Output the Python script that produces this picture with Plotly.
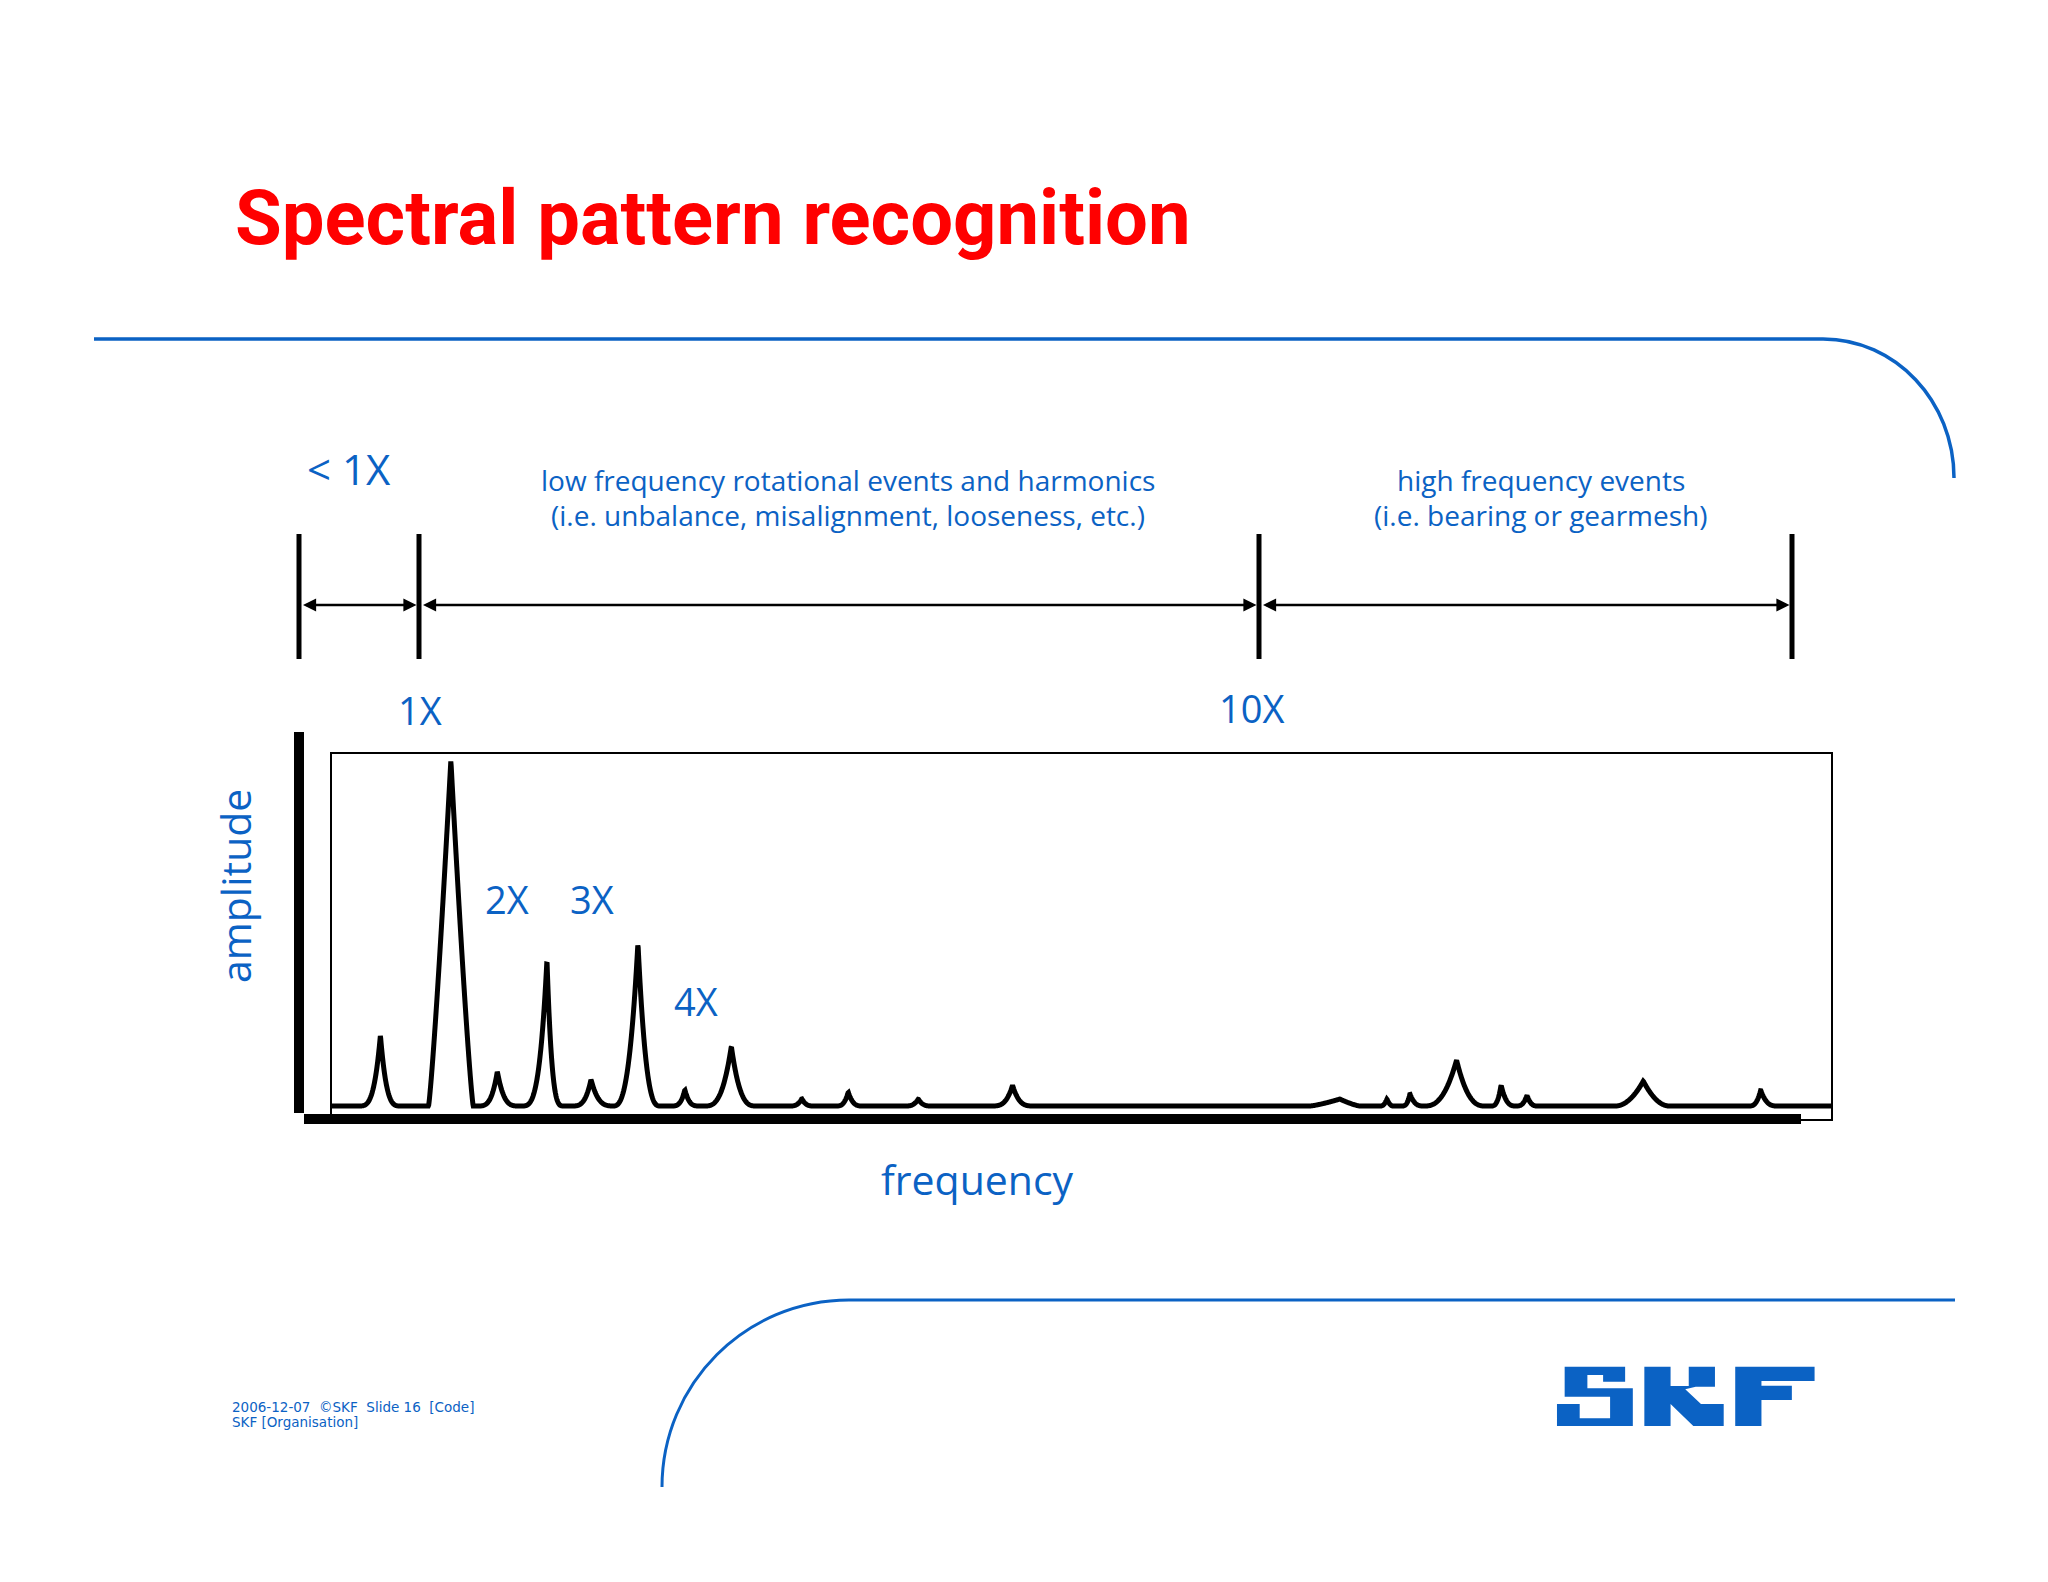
import numpy as np
import plotly.graph_objects as go

W, H = 2048, 1582

# ---------------- data ----------------
# spectrum peaks: frequency (arbitrary units, 0-1000 across the plot box), amplitude (% of the 1X peak)
peak_freq = [32.3, 79.3, 110.3, 143.4, 172.8, 204.1, 235.4, 266.4, 313.4, 344.4,
             391.1, 454.0, 672.3, 703.8, 719.1, 750.2, 779.9, 797.2, 874.8, 953.1]
peak_amp = [20.5, 100.0, 10.0, 42.3, 7.7, 47.2, 4.7, 17.3, 2.1, 4.0,
            2.0, 6.0, 2.0, 2.0, 3.5, 13.3, 6.1, 3.1, 7.2, 4.6]
peak_left_width = [14.6, 14.9, 13.3, 17.3, 13.3, 16.7, 9.3, 18.0, 8.0, 8.0,
                   8.7, 14.7, 20.0, 4.0, 5.3, 21.3, 6.7, 7.3, 18.7, 8.0]
peak_right_width = [13.7, 14.9, 14.7, 11.3, 16.0, 14.7, 10.0, 16.7, 8.0, 9.3,
                    8.7, 14.7, 13.3, 4.0, 9.3, 18.7, 10.0, 7.3, 17.3, 11.3]
peak_sharpness = [3.5, 1.2, 3.5, 3.5, 3.5, 2.8, 3.5, 3.0, 3.0, 3.0,
                  3.0, 3.5, 1.3, 2.0, 3.0, 2.5, 3.0, 3.0, 2.0, 3.0]

harmonic_labels = ["2X", "3X", "4X"]
range_labels = ["1X", "10X"]
title_text = "Spectral pattern recognition"
low_text = ["low frequency rotational events and harmonics",
            "(i.e. unbalance, misalignment, looseness, etc.)"]
high_text = ["high frequency events", "(i.e. bearing or gearmesh)"]
footer_text = ["2006-12-07\u00a0 ©SKF\u00a0 Slide 16\u00a0 [Code]", "SKF [Organisation]"]

# ---------------- build spectrum curve ----------------
freq = np.linspace(0, 1000, 4001)
amp = np.zeros_like(freq)
for f0, a, wl, wr, p in zip(peak_freq, peak_amp, peak_left_width, peak_right_width, peak_sharpness):
    w = np.where(freq < f0, wl, wr)
    u = np.abs(freq - f0) / w
    amp += np.where(u < 1, a * np.clip(1 - u, 0, 1) ** p, 0)

# ---------------- helpers ----------------
def px(x):
    return x / W

def py(y):
    return 1 - y / H

BLUE = "#0B62C4"
RED = "#FF0000"
BODY = "Open Sans, Noto Sans, sans-serif"

fig = go.Figure()
fig.add_trace(go.Scatter(x=freq, y=amp, mode="lines",
                         line=dict(color="black", width=5, simplify=False),
                         hoverinfo="skip", showlegend=False))

box_l, box_r, box_t, box_b = 332, 1831, 754, 1119
base_px, px_per_unit = 1106, 3.46

fig.update_xaxes(domain=[px(box_l), px(box_r)], range=[0, 1000],
                 showline=True, mirror=True, linecolor="black", linewidth=2,
                 showgrid=False, zeroline=False, showticklabels=False, ticks="")
fig.update_yaxes(domain=[py(box_b), py(box_t)],
                 range=[-(box_b - base_px) / px_per_unit, (base_px - box_t) / px_per_unit],
                 showline=True, mirror=True, linecolor="black", linewidth=2,
                 showgrid=False, zeroline=False, showticklabels=False, ticks="")

shapes = []
# thick amplitude / frequency axes
shapes.append(dict(type="line", xref="paper", yref="paper", x0=px(299), x1=px(299),
                   y0=py(732), y1=py(1113), line=dict(color="black", width=10)))
shapes.append(dict(type="line", xref="paper", yref="paper", x0=px(304), x1=px(1801),
                   y0=py(1119), y1=py(1119), line=dict(color="black", width=10)))
# range tick marks
tick_px = [299, 419, 1259, 1792]
for xt in tick_px:
    shapes.append(dict(type="line", xref="paper", yref="paper", x0=px(xt), x1=px(xt),
                       y0=py(534), y1=py(659), line=dict(color="black", width=5)))

# decorative blue lines
k = 0.5523
top = (f"M {px(94)},{py(339)} L {px(1823)},{py(339)} "
       f"C {px(1823 + k*131)},{py(339)} {px(1954)},{py(478 - k*139)} {px(1954)},{py(478)}")
shapes.append(dict(type="path", xref="paper", yref="paper", path=top,
                   line=dict(color=BLUE, width=3.5)))
bot = (f"M {px(1955)},{py(1300)} L {px(849)},{py(1300)} "
       f"C {px(849 - k*187)},{py(1300)} {px(662)},{py(1487 - k*187)} {px(662)},{py(1487)}")
shapes.append(dict(type="path", xref="paper", yref="paper", path=bot,
                   line=dict(color=BLUE, width=3)))

# SKF logo (graphic)
def logo_path(pts):
    conv = [(1500 + zx / 2.861, 1280 + zy / 3) for zx, zy in pts]
    s = "M " + " L ".join(f"{px(x)},{py(y)}" for x, y in conv) + " Z"
    return s

S_pts = [(185, 260), (358, 260), (358, 305), (295, 305), (295, 285), (250, 285), (250, 325),
         (380, 325), (380, 438), (163, 438), (163, 372), (228, 372), (228, 415), (315, 415),
         (315, 350), (185, 350)]
K_pts = [(413, 260), (488, 260), (488, 318), (540, 318), (540, 260), (615, 260), (615, 320),
         (560, 320), (530, 328), (575, 372), (640, 372), (640, 438), (553, 438), (488, 372),
         (488, 438), (413, 438)]
F_pts = [(673, 260), (900, 260), (900, 303), (748, 303), (748, 317), (835, 317), (835, 360),
         (748, 360), (748, 438), (673, 438)]
for pts in (S_pts, K_pts, F_pts):
    shapes.append(dict(type="path", xref="paper", yref="paper", path=logo_path(pts),
                       fillcolor=BLUE, line=dict(width=0)))

annotations = []

def txt(text, x, y, size, color=BLUE, family=BODY, xanchor="center", angle=0, weight="normal"):
    annotations.append(dict(text=text, x=px(x), y=py(y), xref="paper", yref="paper",
                            xanchor=xanchor, yanchor="middle", showarrow=False,
                            textangle=angle, align="left",
                            font=dict(family=family, size=size, color=color, weight=weight)))

txt(title_text, 233, 218, 76, color=RED, family="Roboto, Open Sans, sans-serif",
    xanchor="left", weight="bold")
txt("< 1X", 349, 468, 42)
txt(low_text[0], 848, 480, 28)
txt(low_text[1], 848, 515, 28)
txt(high_text[0], 1541, 480, 28)
txt(high_text[1], 1541, 515, 28)
txt(range_labels[0], 420, 710, 38)
txt(range_labels[1], 1251, 708, 38)
for lab, (lx, ly) in zip(harmonic_labels, [(507, 899), (592, 899), (696, 1001)]):
    txt(lab, lx, ly, 38)
txt("frequency", 977, 1179, 41)
txt("amplitude", 235, 886, 41, angle=-90)
txt(footer_text[0], 230, 1407, 13.5, family="DejaVu Sans, Verdana, sans-serif", xanchor="left")
txt(footer_text[1], 230, 1422, 13.5, family="DejaVu Sans, Verdana, sans-serif", xanchor="left")

# double-headed range arrows
arrow_y = 605
for x0, x1 in zip(tick_px[:-1], tick_px[1:]):
    a0, a1 = x0 + 2.5, x1 - 2.5
    annotations.append(dict(text="", x=px(a1), y=py(arrow_y), xref="paper", yref="paper",
                            ax=-(a1 - a0), ay=0, axref="pixel", ayref="pixel",
                            showarrow=True, arrowhead=2, startarrowhead=2, arrowside="end+start",
                            arrowsize=1.05, startarrowsize=1.05, arrowwidth=2.5,
                            arrowcolor="black", standoff=0, startstandoff=0))

fig.update_layout(width=W, height=H, margin=dict(l=0, r=0, t=0, b=0),
                  paper_bgcolor="white", plot_bgcolor="white",
                  shapes=shapes, annotations=annotations, showlegend=False)

fig.write_html("out.html")
